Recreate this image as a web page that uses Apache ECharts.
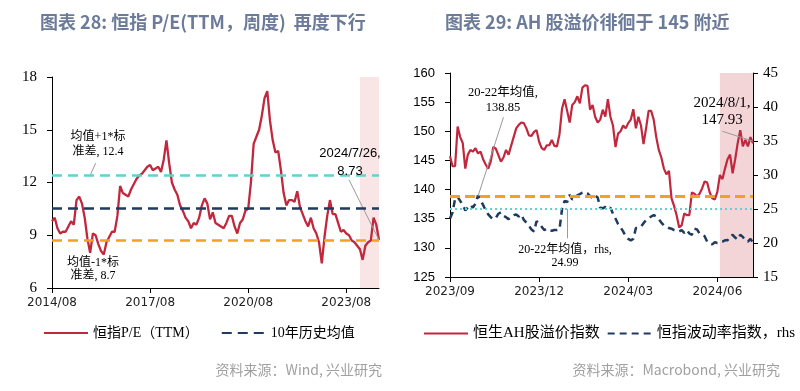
<!DOCTYPE html>
<html>
<head>
<meta charset="utf-8">
<script src="https://cdn.jsdelivr.net/npm/echarts@6/dist/echarts.min.js"></script>
<style>
html,body{margin:0;padding:0;background:#fff;}
#c{width:800px;height:391px;}
</style>
</head>
<body>
<div id="c"></div>
<script>
// ---------------- Left chart: HSI P/E (TTM), monthly readings 2014/08 - 2024/08 ----------------
const peStart = [2014, 8];
const peValues = [
  9.8, 10.0, 9.4, 9.1, 9.2, 9.2, 9.5, 9.8, 9.6, 11.0,
  11.2, 10.8, 10.0, 8.8, 8.0, 9.1, 9.0, 8.5, 8.1, 7.9,
  8.6, 8.9, 9.2, 9.2, 10.1, 11.8, 11.4, 11.3, 11.2, 11.6,
  11.9, 12.2, 12.4, 12.5, 12.7, 12.9, 13.0, 12.7, 12.8, 12.9,
  12.6, 13.3, 14.4, 13.1, 12.0, 11.6, 11.3, 10.7, 10.4, 10.0,
  9.8, 9.4, 9.7, 9.6, 10.0, 10.7, 11.1, 10.8, 9.9, 10.3,
  9.7, 9.6, 9.5, 9.4, 9.7, 10.1, 10.1, 9.5, 9.1, 9.7,
  9.9, 10.4, 10.5, 12.0, 14.2, 14.6, 15.0, 15.8, 16.8, 17.2,
  15.5, 14.4, 13.7, 13.8, 12.7, 11.4, 10.7, 11.0, 11.0, 10.9,
  11.5, 10.6, 10.2, 9.8, 9.5, 10.0, 9.4, 9.1, 8.6, 7.4,
  8.9, 10.1, 11.0, 10.2, 10.2, 9.7, 9.2, 9.3, 9.1, 9.0,
  8.7, 8.6, 8.4, 8.2, 7.6, 8.4, 8.6, 8.7, 10.0, 9.6,
  8.73
];
const peTickLabels = ['2014/08', '2017/08', '2020/08', '2023/08'];
const peMean = 10.55;
const pePlus1 = 12.4;
const peMinus1 = 8.7;
const peShade = ['2024/01', '2024/08'];
const peLast = 8.73;

// month category labels
const peMonths = [];
for (let k = 0; k < peValues.length; k++) {
  const t = peStart[0] * 12 + (peStart[1] - 1) + k;
  const y = Math.floor(t / 12), m = t % 12 + 1;
  peMonths.push(y + '/' + (m < 10 ? '0' + m : m));
}

// ---------------- Right chart: AH premium index & VHSI (rhs), 2023/09 - 2024/08/01 ----------------
const ahValues = [
  145.7, 144.0, 144.0, 150.8, 149.0, 148.0, 143.6, 146.0, 146.8, 146.5,
  147.1, 146.2, 146.5, 145.2, 144.3, 143.6, 144.8, 147.3, 147.0, 145.9,
  144.8, 145.5, 146.8, 146.0, 147.5, 149.0, 150.5, 151.1, 151.5, 151.4,
  150.5, 149.3, 149.2, 149.9, 150.2, 148.2, 147.1, 146.8, 147.6, 147.6,
  148.5, 147.5, 147.4, 149.5, 153.9, 155.5, 153.5, 151.5, 154.5, 155.0,
  156.0, 154.8, 157.5, 157.9, 157.8, 153.7, 154.5, 152.5, 151.5, 152.0,
  153.7, 152.5, 155.5, 152.5, 151.0, 147.3, 149.6, 150.0, 151.0, 150.5,
  151.4, 152.0, 153.8, 150.5, 152.5, 151.0, 147.8, 150.5, 153.5, 153.5,
  152.0, 149.0, 146.8, 145.5, 143.6, 142.6, 143.2, 138.5, 137.2, 135.6,
  133.5, 133.9, 135.9, 135.6, 135.6, 139.5, 139.3, 138.8, 139.3, 140.2,
  141.4, 141.2, 139.5, 138.5, 138.3, 139.6, 142.5, 141.8, 143.6, 145.2,
  146.0, 142.8, 145.2, 148.0, 150.2, 147.4, 148.5, 147.4, 149.0, 147.93
];
const vhsiValues = [
  23.6, 24.5, 26.5, 26.8, 26.2, 25.6, 24.8, 25.2, 25.6, 25.2,
  25.8, 27.0, 26.3, 25.6, 24.8, 24.2, 23.8, 23.5, 23.7, 24.3,
  24.5, 24.0, 23.8, 23.5, 23.9, 24.1, 24.2, 23.9, 24.2, 23.4,
  23.0, 22.5, 22.0, 21.7, 23.2, 22.9, 22.4, 21.9, 22.1, 21.9,
  21.8, 21.9, 21.9, 22.0, 25.0, 26.2, 26.0, 27.1, 26.4, 26.6,
  27.0, 27.2, 27.4, 27.5, 27.3, 26.9, 26.6, 27.0, 26.7, 25.2,
  25.1, 25.3, 25.0, 25.2, 24.3, 23.6, 22.8, 22.3, 21.7, 21.0,
  20.6, 20.4, 20.6, 22.2, 22.2, 22.4, 22.9, 23.4, 23.6, 23.9,
  24.1, 23.9, 23.5, 23.0, 22.6, 22.4, 22.2, 22.1, 21.9, 21.8,
  21.7, 21.9, 21.5, 21.9, 21.4, 21.2, 22.1, 22.0, 21.4, 21.2,
  21.0, 20.2, 19.9, 19.8, 20.1, 20.0, 20.1, 20.2, 20.4, 20.4,
  21.0, 21.2, 20.8, 20.5, 21.2, 20.9, 20.4, 20.2, 20.6, 20.1
];
const ahTickLabels = ['2023/09', '2023/12', '2024/03', '2024/06'];
const ahTickStep = 35;          // trading days between labelled ticks
const ahMean = 138.85;
const vhsiMean = 24.99;
const ahShadeStartIdx = 106;
const ahLast = 147.93;

const ahDays = ahValues.map((_, i) => String(i));

// ---------------- styling ----------------
const RED = '#c1273d';
const NAVY = '#1f3a5f';
const CYAN = '#5fd3cf';
const ORANGE = '#f4a023';
const SERIF_CJK = "'Liberation Serif','Noto Sans CJK SC'";
const LEADER = {color: '#9a9a9a', width: 1, type: 'solid'};

function txt(x, y, text, font, fill, align, lh) {
  return {
    type: 'text', x: x, y: y, z: 100, silent: true,
    style: {text: text, font: font, fill: fill || '#000', textAlign: align || 'center',
            textVerticalAlign: 'middle', lineHeight: lh}
  };
}

const chart = echarts.init(document.getElementById('c'), null, {renderer: 'canvas'});

const option = {
  animation: false,
  backgroundColor: '#fff',
  grid: [
    {left: 52, top: 77, width: 327, height: 211},
    {left: 450, top: 73, width: 303, height: 204}
  ],
  xAxis: [
    {
      type: 'category', gridIndex: 0, data: peMonths, boundaryGap: false,
      axisLine: {lineStyle: {color: '#000', width: 1}},
      axisTick: {interval: (i) => peTickLabels.includes(peMonths[i]), length: 5, lineStyle: {color: '#000'}},
      axisLabel: {interval: (i) => peTickLabels.includes(peMonths[i]), fontFamily: 'DejaVu Sans', fontSize: 12, color: '#222', margin: 9},
      splitLine: {show: false}
    },
    {
      type: 'category', gridIndex: 1, data: ahDays, boundaryGap: false,
      axisLine: {lineStyle: {color: '#000', width: 1}},
      axisTick: {interval: (i) => i % ahTickStep === 0, length: 5, lineStyle: {color: '#000'}},
      axisLabel: {interval: (i) => i % ahTickStep === 0,
                  formatter: (v, i) => ahTickLabels[Math.round(i / ahTickStep)] || '',
                  fontFamily: 'DejaVu Sans', fontSize: 12, color: '#222', margin: 9},
      splitLine: {show: false}
    }
  ],
  yAxis: [
    {
      type: 'value', gridIndex: 0, min: 6, max: 18, interval: 3,
      axisLine: {show: true, lineStyle: {color: '#000'}},
      axisTick: {show: true, length: 5, lineStyle: {color: '#000'}},
      splitLine: {show: false},
      axisLabel: {fontFamily: 'Liberation Serif', fontSize: 15, color: '#000', margin: 15}
    },
    {
      type: 'value', gridIndex: 1, min: 125, max: 160, interval: 5,
      axisLine: {show: true, lineStyle: {color: '#000'}},
      axisTick: {show: true, length: 5, lineStyle: {color: '#000'}},
      splitLine: {show: false},
      axisLabel: {fontFamily: 'Liberation Sans', fontSize: 13, color: '#000', margin: 15}
    },
    {
      type: 'value', gridIndex: 1, position: 'right', min: 15, max: 45, interval: 5,
      axisLine: {show: true, lineStyle: {color: '#000'}},
      axisTick: {show: true, length: 5, lineStyle: {color: '#000'}},
      splitLine: {show: false},
      axisLabel: {fontFamily: 'Liberation Serif', fontSize: 15, color: '#000', margin: 10}
    }
  ],
  legend: [
    {
      data: ['恒指P/E（TTM）', '10年历史均值'], left: 38, top: 321,
      itemWidth: 44, itemHeight: 14, itemGap: 22,
      itemStyle: {opacity: 0},
      textStyle: {fontFamily: SERIF_CJK, fontSize: 14, color: '#000'}
    },
    {
      data: ['恒生AH股溢价指数', '恒指波动率指数，rhs'], left: 418, top: 321,
      itemWidth: 44, itemHeight: 14, itemGap: 7,
      itemStyle: {opacity: 0},
      textStyle: {fontFamily: SERIF_CJK, fontSize: 15, color: '#000'}
    }
  ],
  series: [
    {
      name: '恒指P/E（TTM）', type: 'line', xAxisIndex: 0, yAxisIndex: 0,
      data: peValues, symbol: 'none', smooth: false,
      lineStyle: {color: RED, width: 2.3}, itemStyle: {color: RED},
      markArea: {silent: true, itemStyle: {color: '#fae5e6'},
                 data: [[{xAxis: peShade[0]}, {xAxis: peShade[1]}]]},
      markLine: {silent: true, symbol: ['none', 'none'], label: {show: false}, lineStyle: LEADER,
        data: [
          [{coord: ['2015/12', 13.1]}, {coord: ['2015/10', pePlus1]}],
          [{coord: ['2023/09', 12.15]}, {coord: [peMonths[peMonths.length - 1], peLast]}]
        ]}
    },
    {
      name: '10年历史均值', type: 'line', xAxisIndex: 0, yAxisIndex: 0,
      data: [], symbol: 'none',
      lineStyle: {color: NAVY, width: 2.5, type: [10, 6]}, itemStyle: {color: NAVY},
      markLine: {silent: true, symbol: ['none', 'none'], label: {show: false},
        data: [
          {yAxis: peMean, lineStyle: {color: NAVY, width: 2.5, type: [10, 6]}},
          {yAxis: pePlus1, lineStyle: {color: CYAN, width: 2.5, type: [10, 6]}},
          {yAxis: peMinus1, lineStyle: {color: ORANGE, width: 2.5, type: [10, 6]}}
        ]}
    },
    {
      name: '恒生AH股溢价指数', type: 'line', xAxisIndex: 1, yAxisIndex: 1,
      data: ahValues, symbol: 'none',
      lineStyle: {color: RED, width: 2.2}, itemStyle: {color: RED},
      markArea: {silent: true, itemStyle: {color: '#f3d5d8'},
                 data: [[{xAxis: ahDays[ahShadeStartIdx]}, {xAxis: ahDays[ahDays.length - 1]}]]},
      markLine: {silent: true, symbol: ['none', 'none'], label: {show: false},
        data: [
          {yAxis: ahMean, lineStyle: {color: ORANGE, width: 3, type: [10, 5]}},
          [{coord: [ahDays[21], 152.4], lineStyle: LEADER}, {coord: [ahDays[11], ahMean]}],
          [{coord: [ahDays[107], 150.0], lineStyle: LEADER}, {coord: [ahDays[ahDays.length - 1], 148.3]}]
        ]}
    },
    {
      name: '恒指波动率指数，rhs', type: 'line', xAxisIndex: 1, yAxisIndex: 2,
      data: vhsiValues, symbol: 'none',
      lineStyle: {color: NAVY, width: 2.5, type: [7, 5]}, itemStyle: {color: NAVY},
      markLine: {silent: true, symbol: ['none', 'none'], label: {show: false},
        data: [
          {yAxis: vhsiMean, lineStyle: {color: CYAN, width: 2, type: [2, 3]}},
          [{coord: [ahDays[46], vhsiMean], lineStyle: LEADER}, {coord: [ahDays[46], 20.7]}]
        ]}
    }
  ],
  graphic: [
    txt(40, 22, '图表 28: 恒指 P/E(TTM，周度)  再度下行', "bold 18px 'Noto Sans CJK SC'", '#6b7b99', 'left'),
    txt(445, 22, '图表 29: AH 股溢价徘徊于 145 附近', "bold 18px 'Noto Sans CJK SC'", '#6b7b99', 'left'),
    txt(382, 370, '资料来源：Wind, 兴业研究', "14px 'Noto Sans CJK SC'", '#a0a0a0', 'right'),
    txt(780, 370, '资料来源：Macrobond, 兴业研究', "14px 'Noto Sans CJK SC'", '#a0a0a0', 'right'),
    txt(98, 144.5, '均值+1*标\n准差, 12.4', "12px " + SERIF_CJK, '#000', 'center', 15),
    txt(93, 269.5, '均值-1*标\n准差, 8.7', "12px " + SERIF_CJK, '#000', 'center', 13),
    txt(350, 162.5, '2024/7/26,\n8.73', "13px 'Liberation Sans'", '#000', 'center', 18),
    txt(503, 100.5, '20-22年均值,\n138.85', "12.5px " + SERIF_CJK, '#000', 'center', 15),
    txt(565, 256.5, '20-22年均值，rhs,\n24.99', "12px " + SERIF_CJK, '#000', 'center', 13),
    txt(722, 111.5, '2024/8/1,\n147.93', "15px 'Liberation Serif'", '#000', 'center', 17)
  ]
};

chart.setOption(option);
</script>
</body>
</html>
